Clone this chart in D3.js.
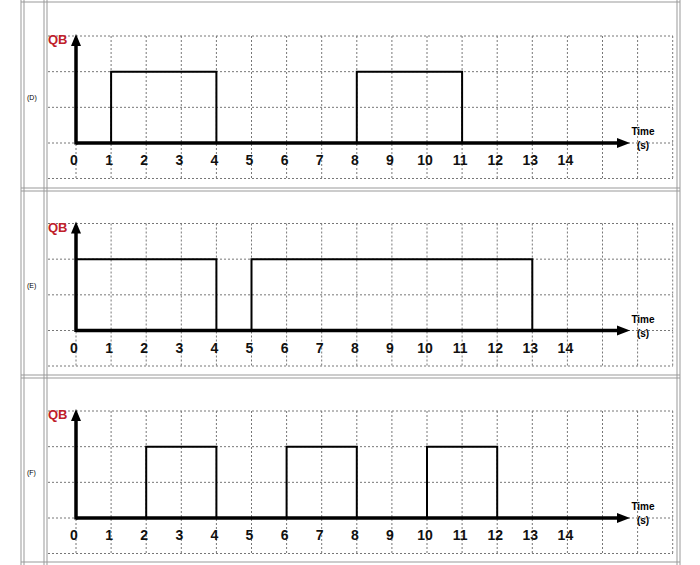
<!DOCTYPE html><html><head><script src="https://cdn.jsdelivr.net/npm/d3@7"></script>
<style>body{margin:0;background:#fff}</style></head><body><svg id="c" width="700" height="565"></svg>
<script>
const panels = ["(D)","(E)","(F)"];
const pulses = [
  [[1,4],[8,11]],
  [[0,4],[5,13]],
  [[2,4],[6,8],[10,12]]
];
const ticks = [0,1,2,3,4,5,6,7,8,9,10,11,12,13,14];
const level = 2;
const svg = d3.select("#c");
const x = d3.scaleLinear().domain([0,1]).range([76,111.1]);
const gridX = d3.range(0,18);
// table
const g0 = svg.append("g").attr("fill","none").attr("stroke","#999");
[[21,0,21,565],[24,0,24,565],[44,0,44,565],[47,0,47,565],[677,0,677,565],[680,0,680,565]].forEach(l=>g0.append("line").attr("x1",l[0]).attr("y1",l[1]).attr("x2",l[2]).attr("y2",l[3]));
[2,188,191,375,378,562].forEach(yy=>g0.append("line").attr("x1",21).attr("x2",680).attr("y1",yy).attr("y2",yy));
panels.forEach((name,i)=>{
  const t = 3 + i*187.5;
  const axisY = t+140;
  const y = d3.scaleLinear().domain([0,3]).range([axisY, axisY-107]);
  const g = svg.append("g");
  g.append("text").attr("x",27).attr("y",t+97).attr("font-family","Arial").attr("font-size",7).text(name);
  const gg = g.append("g").attr("stroke","#777").attr("stroke-width",1).attr("stroke-dasharray","2,2");
  [-1/ (107/3/35.5) ,0,1,2,3].forEach(v=>gg.append("line").attr("x1",48).attr("x2",673).attr("y1",y(v)).attr("y2",y(v)));
  gridX.forEach(v=>gg.append("line").attr("x1",x(v)).attr("x2",x(v)).attr("y1",y(3)).attr("y2",axisY+36));
  // pulses
  pulses[i].forEach(p=>{
    g.append("path").attr("fill","none").attr("stroke","#000").attr("stroke-width",2)
      .attr("d",`M${x(p[0])},${axisY}V${y(level)}H${x(p[1])}V${axisY}`);
  });
  // axes
  g.append("line").attr("x1",x(0)).attr("x2",620).attr("y1",axisY).attr("y2",axisY).attr("stroke","#000").attr("stroke-width",3.5);
  g.append("path").attr("d",`M${630},${axisY}L${617},${axisY-5}L${617},${axisY+5}Z`);
  g.append("line").attr("x1",x(0)).attr("x2",x(0)).attr("y1",axisY+1.5).attr("y2",y(3)+8).attr("stroke","#000").attr("stroke-width",3.5);
  g.append("path").attr("d",`M${x(0)},${y(3)-2}L${x(0)-5},${y(3)+10}L${x(0)+5},${y(3)+10}Z`);
  g.append("text").attr("x",48).attr("y",y(3)+8).attr("fill","#c0202a").attr("font-family","Arial").attr("font-weight","bold").attr("font-size",13).text("QB");
  ticks.forEach(v=>g.append("text").attr("x",x(v)-2).attr("y",axisY+22).attr("text-anchor","middle")
    .attr("font-family","Arial").attr("font-weight","bold").attr("font-size",14).attr("fill","#111").text(v));
  g.append("text").attr("x",643).attr("y",axisY-8).attr("text-anchor","middle").attr("font-family","Arial").attr("font-weight","bold").attr("font-size",10).text("Time");
  g.append("text").attr("x",643).attr("y",axisY+6).attr("text-anchor","middle").attr("font-family","Arial").attr("font-weight","bold").attr("font-size",10).text("(s)");
});
</script></body></html>
